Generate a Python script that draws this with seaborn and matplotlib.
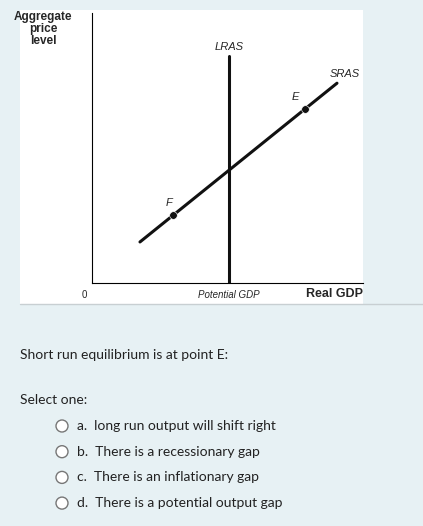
import numpy as np
import matplotlib.pyplot as plt
import seaborn as sns
from matplotlib.patches import Rectangle, Ellipse

# curve data (axis units 0-100)
lras_x = [50.5, 50.5]
lras_y = [0, 84]
sras_x = [17.7, 90.4]
sras_y = [15.2, 74.0]
point_names = ["F", "E"]
point_x = [29.9, 78.6]
point_y = [25.2, 64.4]

question = "Short run equilibrium is at point E:"
options = ["a.", "b.", "c.", "d."]
option_texts = ["long run output will shift right", "There is a recessionary gap",
                "There is an inflationary gap", "There is a potential output gap"]

sns.set_style("white")
plt.rcParams["font.family"] = ["Liberation Sans", "DejaVu Sans"]

W, H = 423, 526
fig = plt.figure(figsize=(W / 100, H / 100), dpi=100)
fig.patch.set_facecolor("#e7f1f4")

# white picture box in a background axes
bg = fig.add_axes([20 / W, 1 - 304 / H, 343 / W, 294 / H], zorder=0)
bg.set_facecolor("white")
bg.set_xticks([])
bg.set_yticks([])
for s in bg.spines.values():
    s.set_visible(False)
fig.lines.append(plt.Line2D([20 / W, 1], [1 - 304 / H] * 2, transform=fig.transFigure,
                            color="#c8cfd2", lw=1))

ax = fig.add_axes([92 / W, 1 - 283 / H, 271 / W, 270 / H], zorder=2)
ax.set_xlim(0, 100)
ax.set_ylim(0, 100)
ax.patch.set_alpha(0)
sns.despine(ax=ax)
for s in ["left", "bottom"]:
    ax.spines[s].set_linewidth(0.8)
    ax.spines[s].set_color("black")
ax.set_xticks([])
ax.set_yticks([])

sns.lineplot(x=lras_x, y=lras_y, ax=ax, color="#111111", lw=2.2, estimator=None)
sns.lineplot(x=sras_x, y=sras_y, ax=ax, color="#111111", lw=2.2, estimator=None)
sns.scatterplot(x=point_x, y=point_y, ax=ax, color="#111111", s=30, zorder=5)
offsets = {"F": (-1.5, 2.5), "E": (-3.5, 2.5)}
for n, x, y in zip(point_names, point_x, point_y):
    dx, dy = offsets[n]
    ax.text(x + dx, y + dy, n, style="italic", fontsize=8, ha="center", va="bottom")
ax.text(50.5, 85.5, "LRAS", style="italic", fontsize=8, ha="center", va="bottom")
ax.text(99, 75.5, "SRAS", style="italic", fontsize=8, ha="right", va="bottom")
ax.text(50.5, -2.5, "Potential GDP", style="italic", fontsize=7, ha="center", va="top", clip_on=False)
ax.text(100, -1.8, "Real GDP", weight="bold", fontsize=9, ha="right", va="top", clip_on=False)
ax.text(-2, -2.5, "0", fontsize=7, ha="right", va="top", clip_on=False)

fig.text(43 / W, 1 - 11 / H, "Aggregate\nprice\nlevel", weight="bold", fontsize=8.5,
         ha="center", va="top", linespacing=1.0, zorder=3)

fam = ["Lato", "DejaVu Sans"]
fig.text(20 / W, 1 - 355 / H, question, fontsize=10, color="#222222", va="center", family=fam)
fig.text(20 / W, 1 - 400 / H, "Select one:", fontsize=10, color="#222222", va="center", family=fam)
for i, (o, t) in enumerate(zip(options, option_texts)):
    yy = 1 - (426 + 25.7 * i) / H
    fig.patches.append(Ellipse((62 / W, yy), 12 / W, 12 / H, transform=fig.transFigure,
                               facecolor="white", edgecolor="#777777", lw=1))
    fig.text(77 / W, yy, f"{o}  {t}", fontsize=10, color="#222222", va="center", family=fam)

fig.savefig("out.png", dpi=100, facecolor=fig.get_facecolor())
